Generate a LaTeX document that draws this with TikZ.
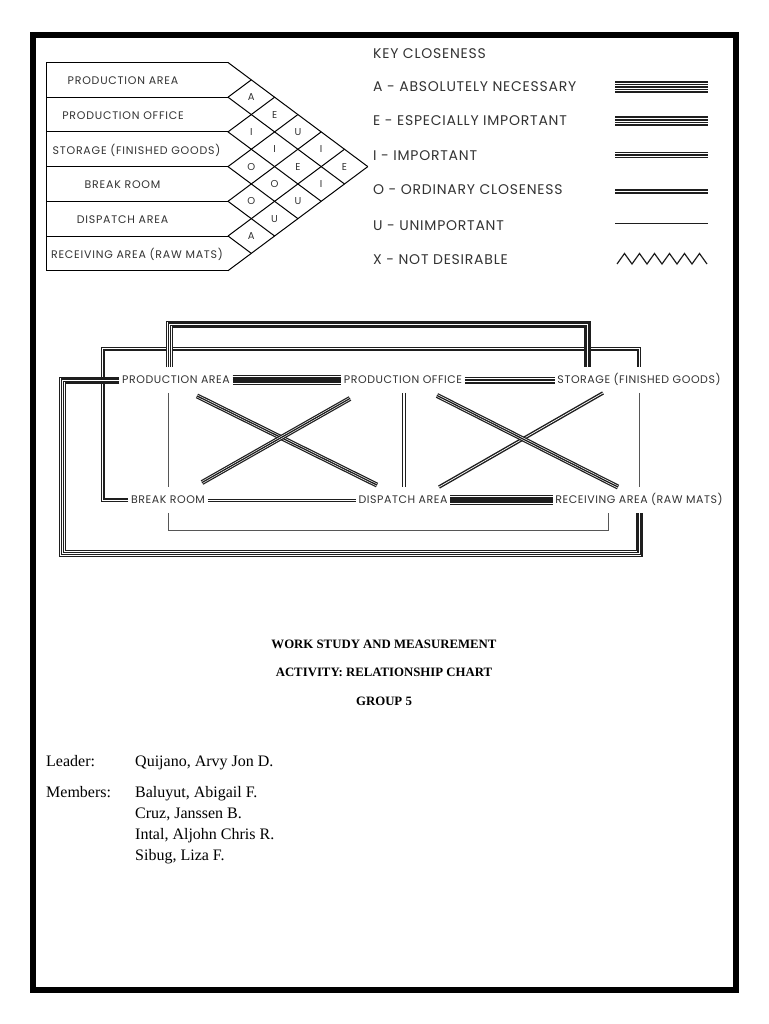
\documentclass[tikz,border=0pt]{standalone}
\usepackage{fontspec}
\setmainfont{Liberation Serif}
\newfontfamily\chartfont[LetterSpace=7]{Poppins}
\newfontfamily\deptfont[LetterSpace=5]{Poppins}
\newfontfamily\keyfont[LetterSpace=5.5]{Poppins}
\usetikzlibrary{calc}

\definecolor{ink}{HTML}{1E1E1E}
\definecolor{labelgray}{HTML}{333333}

\tikzset{
  chartline/.style={draw=black, line width=1pt},
  % black stripes twice as wide as the white gaps
  relA/.style={draw=ink, line width=#1,
    postaction={draw=white, line width=#1*5/7},
    postaction={draw=ink, line width=#1*4/7},
    postaction={draw=white, line width=#1*2/7},
    postaction={draw=ink, line width=#1/7}},
  relE/.style={draw=ink, line width=#1,
    postaction={draw=white, line width=#1*3.5/5.5},
    postaction={draw=ink, line width=#1*2.5/5.5},
    postaction={draw=white, line width=#1*0.5/5.5}},
  relI/.style={draw=ink, line width=#1,
    postaction={draw=white, line width=#1/2},
    postaction={draw=ink, line width=#1/4}},
  relO/.style={draw=ink, line width=#1,
    postaction={draw=white, line width=#1/5}},
  relU/.style={draw=ink!75, line width=#1},
  relU/.default=1pt,
  rowlabel/.style={font=\chartfont\fontsize{11}{13}\selectfont, text=labelgray, inner sep=0pt},
  cellmark/.style={font=\deptfont\fontsize{10}{12}\selectfont, text=labelgray, inner sep=0pt},
  keylabel/.style={font=\keyfont\fontsize{14}{16}\selectfont, text=labelgray, anchor=base west, inner sep=0pt},
  dept/.style={font=\deptfont\fontsize{11}{13}\selectfont, text=labelgray, inner xsep=2.5pt, inner ysep=9pt, text height=7.5pt, text depth=0pt},
  heading/.style={font=\bfseries\fontsize{12.8}{15}\selectfont, anchor=base, inner sep=0pt},
  body/.style={font=\fontsize{16}{19}\selectfont, anchor=base west, inner sep=0pt},
}

\begin{document}
\begin{tikzpicture}[x=1pt, y=-1pt]
  \useasboundingbox (0,0) rectangle (768,1024);
  \fill[white] (0,0) rectangle (768,1024);

  % page frame
  \draw[line width=5.5pt] (33,35) rectangle (736,990);

  % relationship chart: rows
  \foreach \k in {0,...,6} {
    \draw[chartline] (46,{62.5+\k*34.7}) -- (228,{62.5+\k*34.7});
  }
  \draw[chartline] (46,62.5) -- (46,270.7);

  % relationship chart: diamond lattice
  \foreach \k in {0,...,5} {
    \draw[chartline] (228,{62.5+\k*34.7}) -- ++({(6-\k)*23.3},{(6-\k)*17.35});
  }
  \foreach \k in {1,...,6} {
    \draw[chartline] (228,{62.5+\k*34.7}) -- ++({\k*23.3},{-\k*17.35});
  }

  % row labels
  \foreach \name/\lbl/\cx [count=\i] in {pa/PRODUCTION AREA/123, po/PRODUCTION OFFICE/123, st/STORAGE (FINISHED GOODS)/136.5, br/BREAK ROOM/122.5, da/DISPATCH AREA/122.5, ra/RECEIVING AREA (RAW MATS)/137} {
    \node[rowlabel] (row-\name) at (\cx,{62.5+(\i-0.5)*34.7+1}) {\lbl};
  }

  % closeness ratings
  \foreach \i/\j/\r in {1/2/A, 2/3/I, 3/4/O, 4/5/O, 5/6/A, 1/3/E, 2/4/I, 3/5/O, 4/6/U, 1/4/U, 2/5/E, 3/6/U, 1/5/I, 2/6/I, 1/6/E} {
    \node[cellmark] (cell-\i-\j) at ({228+(\j-\i)*23.3},{62.5+(\i+\j-1)*17.35}) {\r};
  }

  % key
  \node[keylabel] (key-title) at (373,59) {KEY CLOSENESS};
  \node[keylabel] (key-A) at (373,92) {A - ABSOLUTELY NECESSARY};
  \node[keylabel] (key-E) at (373,126) {E - ESPECIALLY IMPORTANT};
  \node[keylabel] (key-I) at (373,161) {I - IMPORTANT};
  \node[keylabel] (key-O) at (373,195) {O - ORDINARY CLOSENESS};
  \node[keylabel] (key-U) at (373,230) {U - UNIMPORTANT};
  \node[keylabel] (key-X) at (373,264) {X - NOT DESIRABLE};

  \draw[relA=12] (615,87) -- (708,87);
  \draw[relE=10] (615,121) -- (708,121);
  \draw[relI=6.5] (615,155) -- (708,155);
  \draw[relO=5] (615,191.5) -- (708,191.5);
  \draw[draw=ink, line width=1.5pt] (615,223.5) -- (708,223.5);
  \draw[draw=ink, line width=1.2pt, line join=miter] (617,264)
    \foreach \k in {1,...,6} { -- ++(7.5,-10.5) -- ++(7.5,10.5) };

  % departments
  \node[dept] (PA) at (176,380) {PRODUCTION AREA};
  \node[dept] (PO) at (403,380) {PRODUCTION OFFICE};
  \node[dept] (ST) at (639,380) {STORAGE (FINISHED GOODS)};
  \node[dept] (BR) at (168,500) {BREAK ROOM};
  \node[dept] (DA) at (403,500) {DISPATCH AREA};
  \node[dept] (RA) at (639,500) {RECEIVING AREA (RAW MATS)};

  \coordinate (loop-sw) at (62.5,553.5);
  \coordinate (loop-nw) at (102.5,348.5);

  % U - unimportant
  \draw[relU] (PA.south -| BR.north) -- (BR.north);
  \draw[relU] (ST) -- (RA);
  \draw[relU] (BR.south) -- ++(0,18) -| ([xshift=-31pt]RA.south);

  % O - ordinary closeness
  \draw[relO=4] (BR.west) -| (loop-nw) -| (ST.north);
  \draw[relO=3] (BR) -- (DA);
  \draw[relO=3.5] ($(ST.south)+(-36,0)$) -- ($(DA.north)+(36,0)$);

  % I - important
  \draw[relI=7] (PO) -- (ST);
  \draw[relI=5] ($(PA.south)+(21,3)$) -- ($(DA.north)+(-26,-2)$);
  \draw[relI=5] ($(PO.south)+(-53,5.5)$) -- ($(BR.north)+(34,-4.5)$);
  \draw[relI=5] ($(PO.south)+(34,2.5)$) -- ($(RA.north)+(-21,0)$);

  % E - especially important
  \draw[relE=7] ([xshift=-6.5pt]PA.north) -- ++(0,-43) -| ([xshift=-52pt]ST.north);
  \draw[relE=7] (PA.west) -| (loop-sw) -| (RA.south);
  \draw[relE=5] (PO) -- (DA);

  % A - absolutely necessary
  \draw[relA=10] (PA) -- (PO);
  \draw[relA=10] (DA) -- (RA);

  % title block
  \node[heading] (title) at (384,648) {WORK STUDY AND MEASUREMENT};
  \node[heading] (activity) at (384,676) {ACTIVITY: RELATIONSHIP CHART};
  \node[heading] (group) at (384,705) {GROUP 5};

  \node[body] (leader-tag) at (46,766) {Leader:};
  \node[body] (leader) at (135,766) {Quijano, Arvy Jon D.};
  \node[body] (members-tag) at (46,797) {Members:};
  \foreach \who [count=\n from 0] in {{Baluyut, Abigail F.}, {Cruz, Janssen B.}, {Intal, Aljohn Chris R.}, {Sibug, Liza F.}} {
    \node[body] (member-\n) at (135,{797+\n*21}) {\who};
  }
\end{tikzpicture}
\end{document}
